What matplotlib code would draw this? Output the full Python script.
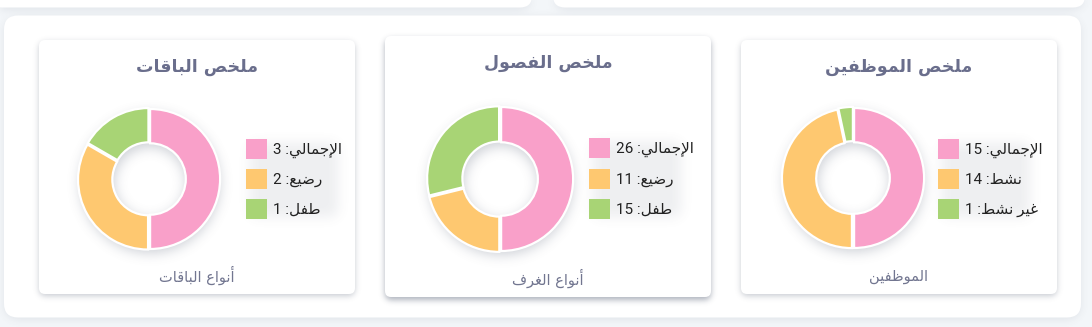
import numpy as np
import matplotlib
matplotlib.use("Agg")
import matplotlib.pyplot as plt
from matplotlib.patches import FancyBboxPatch, Rectangle

W, H = 1092, 327

# chart data (one card per entry, right to left as on the page)
titles = ["ملخص الموظفين", "ملخص الفصول", "ملخص الباقات"]
subtitles = ["الموظفين", "أنواع الغرف", "أنواع الباقات"]
labels = [["الإجمالي", "نشط", "غير نشط"],
          ["الإجمالي", "رضيع", "طفل"],
          ["الإجمالي", "رضيع", "طفل"]]
values = [[15, 14, 1], [26, 11, 15], [3, 2, 1]]
colors = ["#f9a0c9", "#fec870", "#a8d475"]

# layout in pixels
cards = [(741, 40, 1057, 294), (385, 36, 711, 297), (39, 40, 355, 294)]
title_y = [67, 63, 67]
sub_y = [276, 278, 275]
donut_c = [(853, 178), (500, 179), (149, 179)]
donut_r = [70, 72, 70]
legend_x = [938, 589, 246]
legend_y = [[149, 179, 209], [148, 179, 209], [149, 179, 209]]

BG = "#f3f6f9"
TITLE_C = "#6a6e8c"
SUB_C = "#727690"


# --- tiny arabic shaper (matplotlib does not join arabic letters) ---
FORMS = {
    "\u0627": ("\ufe8d", "\ufe8e", None, None),
    "\u0623": ("\ufe83", "\ufe84", None, None),
    "\u0625": ("\ufe87", "\ufe88", None, None),
    "\u0628": ("\ufe8f", "\ufe90", "\ufe91", "\ufe92"),
    "\u062a": ("\ufe95", "\ufe96", "\ufe97", "\ufe98"),
    "\u062c": ("\ufe9d", "\ufe9e", "\ufe9f", "\ufea0"),
    "\u062e": ("\ufea5", "\ufea6", "\ufea7", "\ufea8"),
    "\u0631": ("\ufead", "\ufeae", None, None),
    "\u0634": ("\ufeb5", "\ufeb6", "\ufeb7", "\ufeb8"),
    "\u0635": ("\ufeb9", "\ufeba", "\ufebb", "\ufebc"),
    "\u0636": ("\ufebd", "\ufebe", "\ufebf", "\ufec0"),
    "\u0637": ("\ufec1", "\ufec2", "\ufec3", "\ufec4"),
    "\u0638": ("\ufec5", "\ufec6", "\ufec7", "\ufec8"),
    "\u0639": ("\ufec9", "\ufeca", "\ufecb", "\ufecc"),
    "\u063a": ("\ufecd", "\ufece", "\ufecf", "\ufed0"),
    "\u0641": ("\ufed1", "\ufed2", "\ufed3", "\ufed4"),
    "\u0642": ("\ufed5", "\ufed6", "\ufed7", "\ufed8"),
    "\u0644": ("\ufedd", "\ufede", "\ufedf", "\ufee0"),
    "\u0645": ("\ufee1", "\ufee2", "\ufee3", "\ufee4"),
    "\u0646": ("\ufee5", "\ufee6", "\ufee7", "\ufee8"),
    "\u0648": ("\ufeed", "\ufeee", None, None),
    "\u064a": ("\ufef1", "\ufef2", "\ufef3", "\ufef4"),
}
LAMALEF = {"\u0627": ("\ufefb", "\ufefc"), "\u0623": ("\ufef7", "\ufef8"),
           "\u0625": ("\ufef9", "\ufefa")}


def shape(text):
    seq = []
    i = 0
    while i < len(text):
        if text[i] == "\u0644" and i + 1 < len(text) and text[i + 1] in LAMALEF:
            seq.append(("LA", text[i + 1]))
            i += 2
        else:
            seq.append(text[i])
            i += 1

    def joins_next(it):
        return isinstance(it, str) and it in FORMS and FORMS[it][2] is not None

    def joins_prev(it):
        return isinstance(it, tuple) or it in FORMS

    out = ""
    for k, it in enumerate(seq):
        pj = k > 0 and joins_next(seq[k - 1]) and joins_prev(it)
        nj = k < len(seq) - 1 and joins_next(it) and joins_prev(seq[k + 1])
        if isinstance(it, tuple):
            out += LAMALEF[it[1]][1 if pj else 0]
        elif it in FORMS:
            f = FORMS[it]
            out += f[3] if (pj and nj) else f[1] if pj else f[2] if nj else f[0]
        else:
            out += it
    # visual order: reverse runs, keep digit runs left-to-right
    runs = []
    for ch in out:
        d = ch.isdigit()
        if runs and runs[-1][0] == d:
            runs[-1][1] += ch
        else:
            runs.append([d, ch])
    return "".join(r if d else r[::-1] for d, r in reversed(runs))


# --- helpers for soft shadows ---
xx, yy = np.meshgrid(np.arange(W) + 0.5, np.arange(H) + 0.5)


def rrect(x0, y0, x1, y1, r):
    dx = np.maximum(np.maximum(x0 + r - xx, xx - (x1 - r)), 0)
    dy = np.maximum(np.maximum(y0 + r - yy, yy - (y1 - r)), 0)
    m = (dx ** 2 + dy ** 2 <= r * r) & (xx >= x0) & (xx <= x1) & (yy >= y0) & (yy <= y1)
    return m.astype(float)


def blur(a, s):
    k = np.arange(-int(3 * s), int(3 * s) + 1)
    g = np.exp(-k ** 2 / (2.0 * s * s))
    g /= g.sum()
    a = np.apply_along_axis(lambda r: np.convolve(r, g, mode="same"), 1, a)
    a = np.apply_along_axis(lambda c: np.convolve(c, g, mode="same"), 0, a)
    return a


def shadow(ax, mask, strength, rgb=(90, 100, 120), z=1):
    img = np.zeros((H, W, 4))
    img[..., 0] = rgb[0] / 255
    img[..., 1] = rgb[1] / 255
    img[..., 2] = rgb[2] / 255
    img[..., 3] = np.clip(mask * strength, 0, 1)
    ax.imshow(img, extent=(0, W, H, 0), aspect="auto", zorder=z, interpolation="bilinear")


fig = plt.figure(figsize=(W / 100, H / 100), dpi=100, facecolor=BG)
ax = fig.add_axes([0, 0, 1, 1])
ax.set_facecolor(BG)

# outer cards
outer = [(-10, -30, 532, 7.5, 12), (553, -30, 1085, 7.5, 12), (4, 15.5, 1081, 317.5, 14)]
m = sum(rrect(x0, y0 + 2, x1, y1 + 2, r) for x0, y0, x1, y1, r in outer)
shadow(ax, blur(m, 4), 0.12, z=1)
for x0, y0, x1, y1, r in outer:
    ax.add_patch(FancyBboxPatch((x0, y0), x1 - x0, y1 - y0,
                                boxstyle=f"round,pad=0,rounding_size={r}",
                                fc="white", ec="none", zorder=2))

# inner cards
m = np.zeros((H, W))
for i, (x0, y0, x1, y1) in enumerate(cards):
    if i == 1:
        m += 1.5 * rrect(x0, y0 + 3, x1, y1 + 3, 6)
    else:
        m += rrect(x0, y0 + 2, x1, y1 + 2, 6)
shadow(ax, blur(m, 3), 0.33, z=3)
for x0, y0, x1, y1 in cards:
    ax.add_patch(FancyBboxPatch((x0, y0), x1 - x0, y1 - y0,
                                boxstyle="round,pad=0,rounding_size=6",
                                fc="white", ec="none", zorder=4))

# donut and legend shadows
m = np.zeros((H, W))
for (cx, cy), R, lx, ly in zip(donut_c, donut_r, legend_x, legend_y):
    rr = np.hypot(xx - (cx + 1), yy - (cy + 4))
    m += ((rr <= R) & (rr >= R * 0.51)).astype(float)
    m += 0.35 * rrect(lx + 4, ly[0] - 6, lx + 92, ly[-1] + 8, 8)
shadow(ax, blur(m, 6), 0.3, z=5)

ax.set_xlim(0, W)
ax.set_ylim(H, 0)
ax.axis("off")

for i in range(3):
    x0, y0, x1, y1 = cards[i]
    cxm = (x0 + x1) / 2
    ax.text(cxm, title_y[i], shape(titles[i]), ha="center", va="center",
            fontsize=12.5, fontweight="bold", color=TITLE_C,
            family=["DejaVu Sans"], zorder=6)
    ax.text(cxm, sub_y[i], shape(subtitles[i]), ha="center", va="center",
            fontsize=10.5, color=SUB_C, family=["DejaVu Sans"], zorder=6)

    # legend
    for j in range(3):
        ax.add_patch(Rectangle((legend_x[i], legend_y[i][j] - 10), 21, 20,
                               fc=colors[j], ec="none", zorder=6))
        ax.text(legend_x[i] + 27, legend_y[i][j] + 1,
                shape(f"{labels[i][j]}: {values[i][j]}"),
                ha="left", va="center", fontsize=11, color="#222222",
                family=["Roboto", "DejaVu Sans"], zorder=6)

    # donut
    cx, cy = donut_c[i]
    R = donut_r[i] + 3
    dax = fig.add_axes([(cx - R) / W, (H - cy - R) / H, 2 * R / W, 2 * R / H])
    dax.pie(values[i], colors=colors, startangle=90, counterclock=False,
            radius=donut_r[i] / R, explode=[0.015] * 3,
            wedgeprops=dict(width=0.49 * donut_r[i] / R, edgecolor="white", linewidth=1.6))
    dax.set_xlim(-1, 1)
    dax.set_ylim(-1, 1)
    dax.axis("off")

fig.savefig("out.png", dpi=100, facecolor=BG)
